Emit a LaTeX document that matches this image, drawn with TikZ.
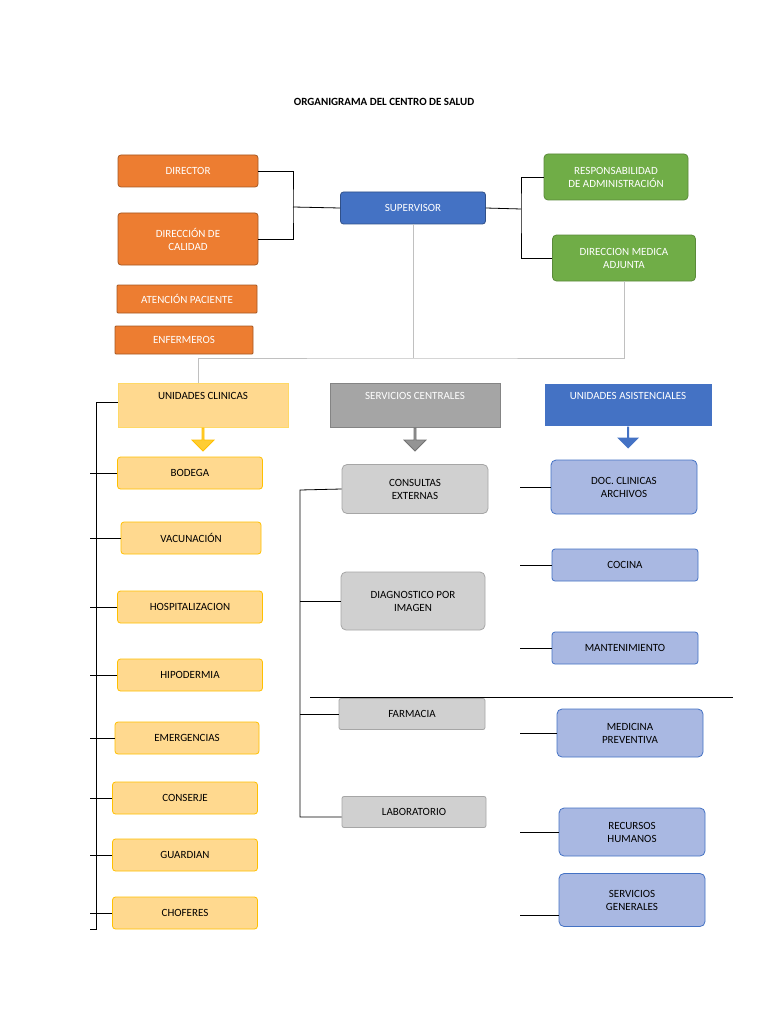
\documentclass[tikz,border=0pt]{standalone}
\usepackage{fontspec}
\setmainfont{Carlito}
\usetikzlibrary{shapes.arrows,positioning}
\definecolor{orgorange}{HTML}{ED7D31}
\definecolor{orgblue}{HTML}{4472C4}
\definecolor{orggreen}{HTML}{70AD47}
\definecolor{paleorange}{HTML}{FFD98F}
\definecolor{orgyellow}{HTML}{FFC000}
\definecolor{palegray}{HTML}{D0D0D0}
\definecolor{midgray}{HTML}{A5A5A5}
\definecolor{paleblue}{HTML}{A9B8E2}
\begin{document}
\begin{tikzpicture}[
    x=1pt,y=-1pt,line width=0.8pt,
    every node/.style={font=\fontsize{11}{13}\selectfont,align=center,inner sep=1pt},
    head/.style={rectangle,draw=orgorange!70!black,fill=orgorange,text=white,rounded corners=3pt,minimum width=140pt},
    boss/.style={rectangle,draw=orgblue!70!black,fill=orgblue,text=white,rounded corners=3pt,minimum width=145pt,minimum height=32pt},
    admin/.style={rectangle,draw=orggreen!80!black,fill=orggreen,text=white,rounded corners=4pt,minimum width=144pt,minimum height=46pt},
    group/.style={rectangle,minimum width=170pt,minimum height=44pt,text depth=18pt},
    clinica/.style={rectangle,draw=orgyellow,fill=paleorange,rounded corners=3pt,minimum width=145pt,minimum height=32pt},
    central/.style={rectangle,draw=palegray!80!black,fill=palegray,rounded corners=5pt,minimum width=146pt},
    asist/.style={rectangle,draw=orgblue,fill=paleblue,rounded corners=5pt,minimum width=146pt},
    down/.style={single arrow,shape border rotate=270,minimum height=23pt,minimum width=22pt,single arrow head extend=4pt,inner sep=0pt}
  ]
    \useasboundingbox[fill=white] (0,0) rectangle (768,1024);

    \node (title) at (384,102) {\textbf{ORGANIGRAMA DEL CENTRO DE SALUD}};

    % top level
    \node (director)   [head,minimum height=32pt] at (188,171) {DIRECTOR};
    \node (calidad)    [head,minimum height=52pt] at (188,239) {DIRECCIÓN DE\\CALIDAD};
    \node (atencion)   [head,minimum height=28pt,rounded corners=1pt] at (187,299) {ATENCIÓN PACIENTE};
    \node (enfermeros) [head,minimum height=28pt,rounded corners=1pt,minimum width=138pt] at (184,340) {ENFERMEROS};
    \node (supervisor) [boss] at (413,208) {SUPERVISOR};
    \node (resp)       [admin] at (616,177) {RESPONSABILIDAD\\DE ADMINISTRACIÓN};
    \node (dma)        [admin,minimum width=143pt] at (624,258) {DIRECCION MEDICA\\ADJUNTA};

    \coordinate (lb) at (293,207);
    \coordinate (rb) at (521,209);
    \draw (director.east) -| (lb) |- (calidad.east);
    \draw (lb) -- (supervisor.west);
    \draw (supervisor.east) -- (rb);
    \draw (resp.west) -| (rb) |- (dma.west);

    % groups
    \node (clinicas) [group,draw=orgyellow!60,fill=paleorange] at (203,405) {UNIDADES CLINICAS};
    \node (centrales) [group,draw=midgray!80!black,fill=midgray,text=white] at (415,405) {SERVICIOS CENTRALES};
    \node (asistenciales) [group,fill=orgblue,text=white,minimum width=167pt,minimum height=42pt] at (628,405) {UNIDADES ASISTENCIALES};
    \node (a1) [down,fill=orgyellow!80,draw=orgyellow] at (203,439) {};
    \node (a2) [down,fill=midgray!90!black,draw=midgray!70!black] at (415,439) {};
    \node (a3) [down,fill=orgblue,minimum height=22pt] at (628,437) {};

    \coordinate (hub) at (413,358);
    \draw[midgray!70] (supervisor.south) -- (hub);
    \draw[midgray!70] (dma.south) |- (hub) -| (clinicas.north -| 198,0);

    % unidades clinicas
    \node (bodega)   [clinica] at (190,473) {BODEGA};
    \node (vacuna)   [clinica,minimum width=140pt] at (191,538) {VACUNACIÓN};
    \node (hospital) [clinica] at (190,607) {HOSPITALIZACION};
    \node (hipo)     [clinica] at (190,675) {HIPODERMIA};
    \node (emerg)    [clinica,minimum width=144pt] at (187,738) {EMERGENCIAS};
    \node (conserje) [clinica] at (185,798) {CONSERJE};
    \node (guardian) [clinica] at (185,855) {GUARDIAN};
    \node (choferes) [clinica] at (185,913) {CHOFERES};
    \coordinate (ltop) at (96,402);
    \coordinate (lbot) at (96,929);
    \draw (clinicas.west |- ltop) -- (ltop) -- (lbot) -- (90,929);
    \foreach \n in {bodega,vacuna,hospital,hipo,emerg,conserje,guardian,choferes}
      \draw (\n.west) -- (\n.west -| 90,0);

    % servicios centrales
    \node (consultas) [central,minimum height=49pt] at (415,489) {CONSULTAS\\EXTERNAS};
    \node (diag)      [central,minimum height=58pt,minimum width=144pt] at (413,601) {DIAGNOSTICO POR\\IMAGEN};
    \node (farmacia)  [central,minimum height=31pt,rounded corners=2pt] at (412,714) {FARMACIA};
    \node (lab)       [central,minimum height=31pt,rounded corners=2pt,minimum width=144pt] at (414,812) {LABORATORIO};
    \coordinate (ctop) at (300,490);
    \coordinate (cbot) at (300,817);
    \draw (consultas.west) -- (ctop) -- (cbot) -- (lab.west |- cbot);
    \foreach \n in {diag,farmacia}
      \draw (\n.west) -- (\n.west -| ctop);
    \coordinate (sepl) at (310,697);
    \coordinate (sepr) at (733,697);
    \draw (sepl) -- (sepr);

    % unidades asistenciales
    \node (doc)      [asist,minimum height=54pt] at (624,487) {DOC. CLINICAS\\ARCHIVOS};
    \node (cocina)   [asist,minimum height=32pt,rounded corners=3pt] at (625,565) {COCINA};
    \node (mant)     [asist,minimum height=32pt,rounded corners=3pt] at (625,648) {MANTENIMIENTO};
    \node (medicina) [asist,minimum height=48pt] at (630,733) {MEDICINA\\PREVENTIVA};
    \node (rrhh)     [asist,minimum height=48pt] at (632,832) {RECURSOS\\HUMANOS};
    \node (servgen)  [asist,minimum height=53pt] at (632,900) {SERVICIOS\\GENERALES};
    \foreach \n in {doc,cocina,mant,medicina,rrhh}
      \draw (\n.west) -- (\n.west -| 520,0);
    \draw (servgen.west |- 0,915) -- (520,915);
\end{tikzpicture}
\end{document}
